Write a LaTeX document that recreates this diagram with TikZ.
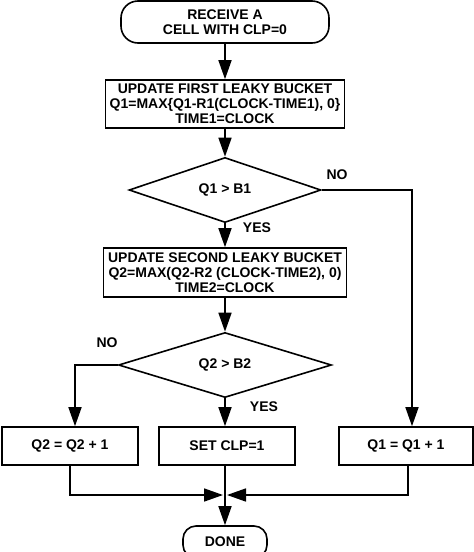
\documentclass[tikz,border=0pt]{standalone}
\usepackage{fontspec}
\setmainfont{Liberation Sans}
\usetikzlibrary{arrows.meta,shapes.geometric}
\tikzset{
  box/.style={draw, rectangle, align=center, inner sep=1pt},
  term/.style={draw, rectangle, rounded corners=17pt, align=center, inner sep=1pt},
  dia/.style={draw, diamond, inner sep=0pt},
  lbl/.style={inner sep=0pt},
}
\begin{document}
\begin{tikzpicture}[x=1pt,y=-1pt, line width=1.6pt,
  >={Triangle[length=19pt,width=13pt]},
  font=\fontsize{14}{15}\selectfont\bfseries]
\useasboundingbox (0,0) rectangle (474,552);
\fill[white] (0,0) rectangle (474,552);

\node[term, minimum width=208pt, minimum height=42pt] (start) at (225,22) {RECEIVE A\\CELL WITH CLP=0};
\node[box, minimum width=239pt, minimum height=48pt] (b1) at (225,104) {UPDATE FIRST LEAKY BUCKET\\Q1=MAX\{Q1-R1(CLOCK-TIME1), 0\}\\TIME1=CLOCK};
\node[dia, minimum width=192pt, minimum height=50pt] (d1) at (225,190) {Q1 > B1};
\node[box, minimum width=243pt, minimum height=49pt] (b2) at (225,272.5) {UPDATE SECOND LEAKY BUCKET\\Q2=MAX(Q2-R2 (CLOCK-TIME2), 0)\\TIME2=CLOCK};
\node[dia, minimum width=213pt, minimum height=60pt] (d2) at (225,365) {Q2 > B2};
\node[box, minimum width=136pt, minimum height=38pt] (q2) at (70,446) {Q2 = Q2 + 1};
\node[box, minimum width=136pt, minimum height=38pt] (set) at (227,446) {SET CLP=1};
\node[box, minimum width=134pt, minimum height=38pt] (q1) at (406,446) {Q1 = Q1 + 1};
\node[term, rounded corners=13pt, minimum width=84pt, minimum height=32pt] (done) at (225,542) {DONE};
\coordinate (merge) at (225,495);

\node[lbl] (no1) at (337,175) {NO};
\node[lbl] (yes1) at (257,228) {YES};
\node[lbl] (no2) at (107,343) {NO};
\node[lbl] (yes2) at (264,407) {YES};

\draw[->] (start) -- (b1);
\draw[->] (b1.south) -- (d1.north);
\draw[->] (d1.south) -- (b2.north);
\draw[->] (b2.south) -- (d2.north);
\draw[->] (d1.east) -| ([xshift=6pt]q1.north);
\draw[->] (d2.west) -| ([xshift=5pt]q2.north);
\draw[->] (d2.south) -- (set.north -| d2.south);
\draw[->] (q2.south) |- ([xshift=-2pt]merge);
\draw[->] ([xshift=2pt]q1.south) |- ([xshift=2pt]merge);
\draw[->] (set.south -| merge) -- (done.north);
\end{tikzpicture}
\end{document}
